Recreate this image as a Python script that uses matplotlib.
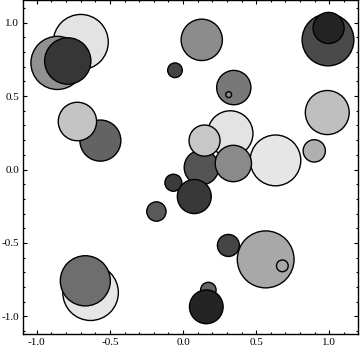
import matplotlib
matplotlib.use("Agg")
import matplotlib.pyplot as plt
from matplotlib.patches import Circle
from matplotlib.ticker import MultipleLocator, FixedLocator

# bubble data (drawing order: back to front)
xs = [-0.632, -0.668, -0.699, -0.859, -0.788, -0.565, -0.722, -0.055, 0.128, 0.991,
      0.995, 0.347, 0.312, 0.986, 0.323, 0.632, 0.126, 0.147, 0.344, 0.897,
      -0.066, -0.182, 0.077, 0.310, 0.565, 0.679, 0.173, 0.159]
ys = [-0.838, -0.758, 0.868, 0.726, 0.739, 0.197, 0.327, 0.676, 0.883, 0.883,
      0.964, 0.558, 0.510, 0.388, 0.245, 0.062, 0.014, 0.197, 0.041, 0.127,
      -0.090, -0.286, -0.184, -0.517, -0.612, -0.656, -0.821, -0.935]
radii = [0.190, 0.171, 0.188, 0.181, 0.158, 0.140, 0.131, 0.050, 0.141, 0.177,
         0.106, 0.117, 0.020, 0.150, 0.155, 0.173, 0.118, 0.106, 0.124, 0.076,
         0.058, 0.066, 0.116, 0.075, 0.194, 0.040, 0.053, 0.115]
shades = [0.90, 0.43, 0.89, 0.57, 0.21, 0.39, 0.77, 0.27, 0.55, 0.29,
          0.14, 0.47, 0.55, 0.75, 0.89, 0.90, 0.33, 0.78, 0.54, 0.69,
          0.23, 0.35, 0.22, 0.27, 0.66, 0.66, 0.40, 0.14]

xticks = [-1.0, -0.5, 0.0, 0.5, 1.0]
yticks = [-1.0, -0.5, 0.0, 0.5, 1.0]

fig = plt.figure(figsize=(3.6, 3.52), dpi=100)
ax = fig.add_axes([0.0647, 0.052, 0.9297, 0.947])

for x, y, r, s in zip(xs, ys, radii, shades):
    ax.add_patch(Circle((x, y), r, facecolor=(s, s, s), edgecolor="black", linewidth=1.0))

ax.set_xlim(-1.092, 1.196)
ax.set_ylim(-1.118, 1.152)

ax.xaxis.set_major_locator(FixedLocator(xticks))
ax.yaxis.set_major_locator(FixedLocator(yticks))
ax.xaxis.set_minor_locator(MultipleLocator(0.1))
ax.yaxis.set_minor_locator(MultipleLocator(0.1))
ax.set_xticklabels([f"{t:.1f}" for t in xticks])
ax.set_yticklabels([f"{t:.1f}" for t in yticks])

ax.tick_params(which="both", direction="in", top=True, right=True, width=0.8, color="black")
ax.tick_params(which="major", length=3.2, pad=3)
ax.tick_params(which="minor", length=1.6)
for lab in ax.get_xticklabels() + ax.get_yticklabels():
    lab.set_fontfamily("Liberation Serif")
    lab.set_fontsize(8)

for sp in ax.spines.values():
    sp.set_linewidth(1.0)

fig.savefig("out.png", dpi=100)
